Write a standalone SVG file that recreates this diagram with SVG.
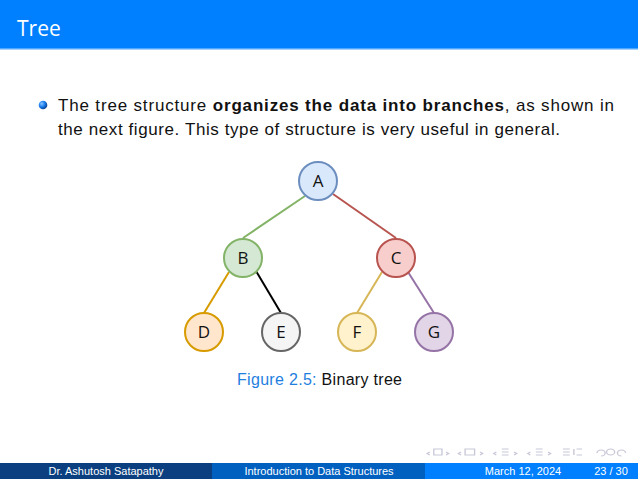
<svg xmlns="http://www.w3.org/2000/svg" width="638" height="479" viewBox="0 0 638 479">
<defs>
<radialGradient id="ball" cx="0.35" cy="0.35" r="0.7">
<stop offset="0" stop-color="#8fc4ff"/>
<stop offset="0.5" stop-color="#1a80f0"/>
<stop offset="1" stop-color="#0a3d8a"/>
</radialGradient>
<style>
.body{font-family:"Liberation Sans","DejaVu Sans",sans-serif;font-size:17px;fill:#111}
.lbl{font-family:"Open Sans","Liberation Sans",sans-serif;font-size:17px;fill:#111;text-anchor:middle}
.node{stroke-width:2}
.edge{stroke-width:2;fill:none}
.foot{font-family:"Liberation Sans","DejaVu Sans",sans-serif;font-size:11px;fill:#fff;text-anchor:middle}
.nav{fill:none;stroke:#c8c8d8;stroke-width:1}
</style>
</defs>
<rect x="0" y="0" width="638" height="479" fill="#ffffff"/>
<!-- header -->
<rect x="0" y="0" width="638" height="48" fill="#0080ff"/>
<rect x="0" y="48" width="638" height="1.5" fill="#4da6ff"/>
<text x="17" y="36" style="font-family:'Open Sans','Liberation Sans',sans-serif;font-size:21px;fill:#fff">Tree</text>
<!-- body -->
<circle cx="43" cy="105" r="4.3" fill="url(#ball)"/>
<text class="body" x="58" y="111" textLength="556" lengthAdjust="spacing">The tree structure <tspan font-weight="bold">organizes the data into branches</tspan>, as shown in</text>
<text class="body" x="58" y="135" textLength="502" lengthAdjust="spacing">the next figure.  This type of structure is very useful in general.</text>
<!-- connectors -->
<g id="connectors">
<line class="edge" x1="305" y1="196" x2="243" y2="238" stroke="#82b366"/>
<line class="edge" x1="333" y1="194" x2="396" y2="238" stroke="#b85450"/>
<line class="edge" x1="229" y1="272" x2="204" y2="313" stroke="#d79b00"/>
<line class="edge" x1="256" y1="271" x2="281" y2="313" stroke="#000000"/>
<line class="edge" x1="382" y1="272" x2="357" y2="313" stroke="#d6b656"/>
<line class="edge" x1="408" y1="272" x2="434" y2="313" stroke="#9673a6"/>
</g>
<!-- nodes -->
<g id="node-A"><circle class="node" cx="318" cy="181" r="19" fill="#dae8fc" stroke="#6c8ebf"/><text class="lbl" x="318" y="187">A</text></g>
<g id="node-B"><circle class="node" cx="243" cy="258" r="19" fill="#d5e8d4" stroke="#82b366"/><text class="lbl" x="243" y="264">B</text></g>
<g id="node-C"><circle class="node" cx="396" cy="258" r="19" fill="#f8cecc" stroke="#b85450"/><text class="lbl" x="396" y="264">C</text></g>
<g id="node-D"><circle class="node" cx="204" cy="332" r="19" fill="#ffe6cc" stroke="#d79b00"/><text class="lbl" x="204" y="338">D</text></g>
<g id="node-E"><circle class="node" cx="281" cy="332" r="19" fill="#f5f5f5" stroke="#666666"/><text class="lbl" x="281" y="338">E</text></g>
<g id="node-F"><circle class="node" cx="357" cy="332" r="19" fill="#fff2cc" stroke="#d6b656"/><text class="lbl" x="357" y="338">F</text></g>
<g id="node-G"><circle class="node" cx="434" cy="332" r="19" fill="#e1d5e7" stroke="#9673a6"/><text class="lbl" x="434" y="338">G</text></g>
<!-- caption -->
<text x="237" y="385" style="font-family:'Liberation Sans','DejaVu Sans',sans-serif;font-size:16px" textLength="165" lengthAdjust="spacing"><tspan fill="#1f7fe0">Figure 2.5:</tspan><tspan fill="#111"> Binary tree</tspan></text>
<!-- nav icons -->
<g id="nav" transform="translate(427 0) scale(1.36 1) translate(-427 0)">
<path class="nav" d="M429 452l-2 1.5 2 1.5"/><rect class="nav" x="432" y="449" width="6" height="6"/><path class="nav" d="M441 452l2 1.5-2 1.5"/>
<path class="nav" d="M452 452l-2 1.5 2 1.5"/><rect class="nav" x="455" y="449" width="7" height="6"/><path class="nav" d="M466 452l2 1.5-2 1.5"/>
<path class="nav" d="M478 452l-2 1.5 2 1.5"/><path class="nav" d="M482 449h5M482 452h5M482 455h5"/><path class="nav" d="M491 452l2 1.5-2 1.5"/>
<path class="nav" d="M503 452l-2 1.5 2 1.5"/><path class="nav" d="M507 449h5M507 452h5M507 455h5"/><path class="nav" d="M516 452l2 1.5-2 1.5"/>
<path class="nav" d="M527 449h5M527 452h5M527 455h5M535 449v6M537 449h4M537 455h4"/>
<path class="nav" d="M552 453a3 3 0 1 1 3 3"/><circle class="nav" cx="562" cy="452" r="3"/><path class="nav" d="M570 456a3 3 0 1 1 3-3"/>
</g>
<!-- footer -->
<rect x="0" y="463" width="212" height="16" fill="#0b3f80"/>
<rect x="212" y="463" width="213" height="16" fill="#0060bf"/>
<rect x="425" y="463" width="213" height="16" fill="#0080ff"/>
<text class="foot" x="106" y="475">Dr. Ashutosh Satapathy</text>
<text class="foot" x="319" y="475">Introduction to Data Structures</text>
<text class="foot" x="523" y="475">March 12, 2024</text>
<text class="foot" x="611" y="475">23 / 30</text>
</svg>
